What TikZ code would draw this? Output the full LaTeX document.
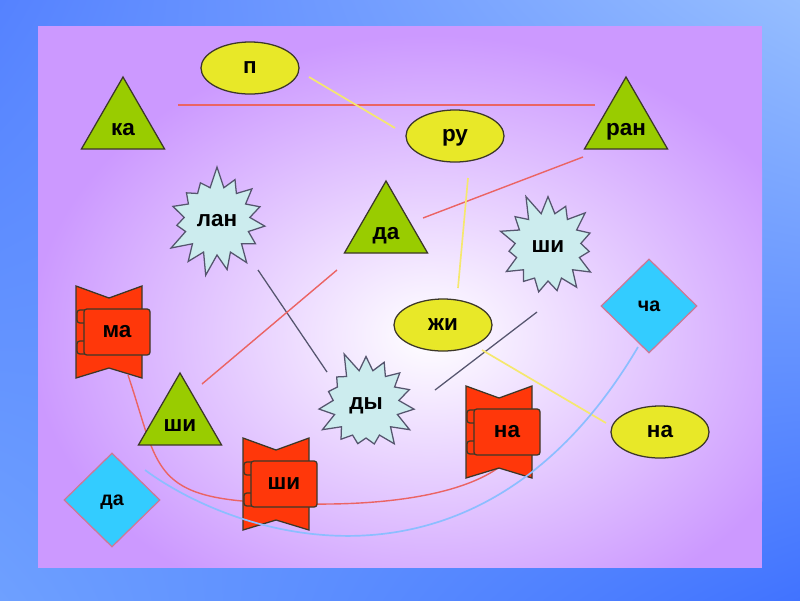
\documentclass[tikz,border=0pt]{standalone}
\usepackage{fontspec}
\setmainfont{Liberation Sans}
\usetikzlibrary{shapes,calc,backgrounds,shadings}
\definecolor{lilac}{RGB}{204,153,255}
\definecolor{blueA}{RGB}{85,130,255}
\definecolor{blueB}{RGB}{150,190,255}
\definecolor{blueC}{RGB}{110,160,255}
\definecolor{blueD}{RGB}{65,115,255}
\definecolor{leaf}{RGB}{153,204,0}
\definecolor{lemon}{RGB}{232,232,40}
\definecolor{sky}{RGB}{51,204,255}
\definecolor{rose}{RGB}{205,120,150}
\definecolor{ice}{RGB}{204,236,238}
\definecolor{scarlet}{RGB}{255,55,10}
\definecolor{ink}{RGB}{60,55,40}
\definecolor{redwire}{RGB}{235,100,100}
\definecolor{yellowwire}{RGB}{245,232,110}
\definecolor{graywire}{RGB}{85,85,110}
\definecolor{bluewire}{RGB}{140,190,255}

\begin{document}
\begin{tikzpicture}[x=0.025cm,y=-0.025cm,
  word/.style={font=\fontsize{16}{16}\selectfont\bfseries,inner sep=0pt,text height=8.3pt,text depth=0pt},
  tri/.style={word,regular polygon,regular polygon sides=3,draw=ink,line width=0.9pt,fill=leaf,minimum size=2.4cm,text height=15.2pt,text depth=-6pt,
    execute at begin node={\hbox to 0pt\bgroup\hss},execute at end node={\hss\egroup}},
  oval/.style={word,ellipse,draw=ink,line width=0.9pt,fill=lemon,minimum width=2.45cm,minimum height=1.3cm},
  rhomb/.style={word,diamond,draw=rose,line width=0.9pt,fill=sky,minimum width=2.4cm,minimum height=2.35cm,font=\fontsize{14}{14}\selectfont\bfseries,text height=7.3pt},
  burst/.style={word,starburst,starburst points=15,starburst point height=0.55cm,draw=graywire,line width=0.9pt,fill=ice,minimum width=2.75cm,minimum height=2.8cm},
  scrollback/.style={draw=ink,line width=0.9pt,fill=scarlet},
  scrollbox/.style={word,scrollback,rounded corners=2pt,minimum width=1.65cm,minimum height=1.15cm},
  redln/.style={draw=redwire,line width=1pt},
  yelln/.style={draw=yellowwire,line width=1.2pt},
  grayln/.style={draw=graywire,line width=0.9pt},
  blueln/.style={draw=bluewire,line width=1.2pt}
]
\useasboundingbox (0,0) rectangle (800,600);
% frame and lilac sheet
\begin{scope}[on background layer]
  \shade[upper left=blueA,upper right=blueB,lower left=blueC,lower right=blueD] (0,0) rectangle (800,600);
  \fill[lilac] (38,26) rectangle (762,568);
  \begin{scope}
    \clip (38,26) rectangle (762,567);
    \shade[inner color=white,outer color=lilac] (430,335) ellipse [x radius=400,y radius=300];
  \end{scope}
\end{scope}

\node[tri]   (ka)   at (123,125) {ка};
\node[tri]   (ran)  at (626,125) {ран};
\node[tri]   (da)   at (386,229) {да};
\node[tri]   (shi)  at (180,421) {ши};
\node[oval]  (p)    at (250,68)  {п};
\node[oval]  (ru)   at (455,136) {ру};
\node[oval]  (zhi)  at (443,325) {жи};
\node[oval]  (na)   at (660,432) {на};
\node[rhomb] (cha)  at (649,306) {ча};
\node[rhomb] (da2)  at (112,500) {да};
\node[burst,random starburst=7]  (lan) at (217,221) {лан};
\node[burst,random starburst=11] (shi2) at (548,247) {ши};
\node[burst,random starburst=5]  (dy)  at (366,404) {ды};

% red scrolls
\foreach \x/\y/\nm/\txt in {117/332/ma/ма, 284/484/shi3/ши, 507/432/na2/на}{
  \draw[scrollback] (\x-41,\y-46) -- (\x-8,\y-34) -- (\x+25,\y-46)
    -- (\x+25,\y+46) -- (\x-8,\y+36) -- (\x-41,\y+46) -- cycle;
  \draw[scrollback,rounded corners=2pt] (\x-40,\y-22) rectangle (\x-30,\y-9);
  \draw[scrollback,rounded corners=2pt] (\x-40,\y+9) rectangle (\x-30,\y+22);
  \node[scrollbox] (\nm) at (\x,\y) {\txt};
}

% matching lines
\begin{scope}[on background layer]
  \draw[redln]  ($(ka)+(55,-20)$) -- ($(ran)+(-31,-20)$);
  \draw[yelln]  ($(p)+(59,9)$) -- ($(ru)+(-60,-8)$);
  \draw[redln]  ($(da)+(37,-11)$) -- ($(ran)+(-43,32)$);
  \draw[yelln]  ($(ru)+(13,42)$) -- ($(zhi)+(15,-37)$);
  \draw[grayln] ($(lan)+(41,49)$) -- ($(dy)+(-39,-32)$);
  \draw[redln]  ($(shi)+(22,-37)$) -- ($(da)+(-49,41)$);
  \draw[grayln] ($(dy)+(69,-14)$) -- ($(shi2)+(-11,65)$);
  \draw[yelln]  ($(zhi)+(39,25)$) -- ($(na)+(-54,-9)$);
  % ma -> shi -> na under the scrolls
  \draw[redln] ($(ma)+(11,43)$) .. controls +(32,95) and +(-130,-3) .. ($(shi3)+(-4,19)$)
    .. controls +(100,5) and +(-38,27) .. ($(na2)+(-9,36)$);
\end{scope}
\draw[blueln] ($(da2)+(33,-30)$) .. controls +(95,70) and +(-158,268) .. ($(cha)+(-11,41)$);
\end{tikzpicture}
\end{document}
